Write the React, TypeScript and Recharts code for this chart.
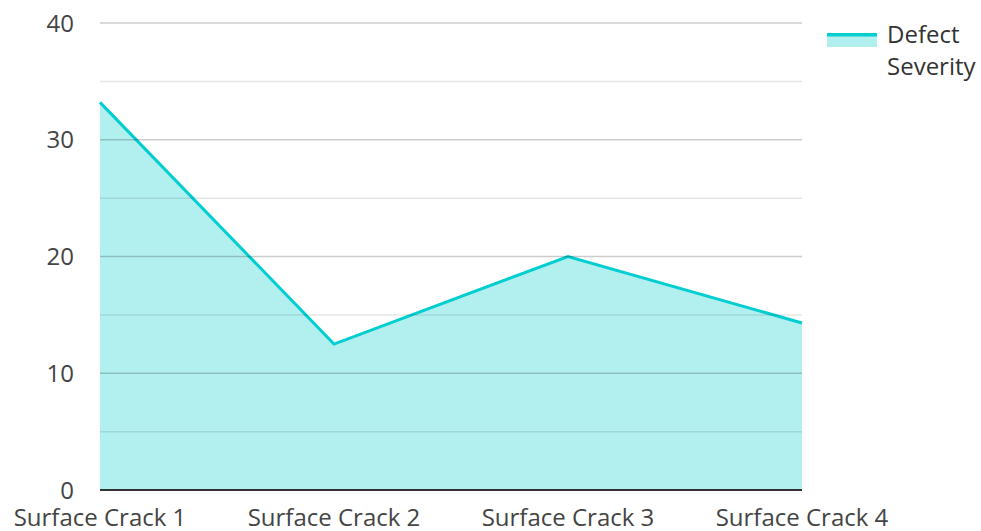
import { AreaChart, Area, XAxis, YAxis, ReferenceLine } from 'recharts'

const categories = ['Surface Crack 1', 'Surface Crack 2', 'Surface Crack 3', 'Surface Crack 4']
const severity = [33.2, 12.5, 20, 14.3]
const yTicks = [0, 10, 20, 30, 40]
const majorGrid = [10, 20, 30, 40]
const minorGrid = [5, 15, 25, 35]

const LINE = '#00CED1'
const FILL = '#b2efef'
const FONT = '"Open Sans", "Noto Sans", sans-serif'

const chartData = categories.map((name, i) => ({ name, severity: severity[i] }))

// legend drawn as an overlay so it doesn't eat into the plot area
function SeverityLegend() {
  return (
    <div
      style={{
        position: 'absolute',
        left: 827,
        top: 18,
        display: 'flex',
        alignItems: 'flex-start',
        fontFamily: FONT,
      }}
    >
      <svg width={50} height={15} style={{ marginTop: 15, flexShrink: 0 }}>
        <rect x={0} y={3} width={50} height={11} fill={FILL} />
        <rect x={0} y={0} width={50} height={3.5} fill={LINE} />
      </svg>
      <div style={{ marginLeft: 10, fontSize: 24, lineHeight: '32px', color: '#333' }}>
        Defect
        <br />
        Severity
      </div>
    </div>
  )
}

export default function App() {
  return (
    <div style={{ position: 'absolute', left: 0, top: 0, width: 981, height: 531, background: '#fff' }}>
      <AreaChart
        width={981}
        height={531}
        data={chartData}
        margin={{ top: 23, right: 179, left: 0, bottom: 0 }}
      >
        <XAxis
          dataKey="name"
          height={41}
          tickSize={0}
          tickMargin={19}
          axisLine={{ stroke: '#333', strokeWidth: 2 }}
          tick={{ fill: '#444', fontSize: 24, fontFamily: FONT }}
          interval={0}
        />
        <YAxis
          width={100}
          domain={[0, 40]}
          ticks={yTicks}
          tickSize={0}
          tickMargin={26}
          axisLine={false}
          tick={{ fill: '#444', fontSize: 24, fontFamily: FONT }}
        />
        <Area
          type="linear"
          dataKey="severity"
          stroke={LINE}
          strokeWidth={3}
          fill={FILL}
          fillOpacity={1}
          isAnimationActive={false}
          dot={false}
          activeDot={false}
        />
        {minorGrid.map((v) => (
          <ReferenceLine key={`minor-${v}`} y={v} stroke="rgba(0,0,0,0.1)" strokeWidth={1.5} />
        ))}
        {majorGrid.map((v) => (
          <ReferenceLine key={`major-${v}`} y={v} stroke="rgba(0,0,0,0.2)" strokeWidth={1.5} />
        ))}
      </AreaChart>
      <SeverityLegend />
    </div>
  )
}
